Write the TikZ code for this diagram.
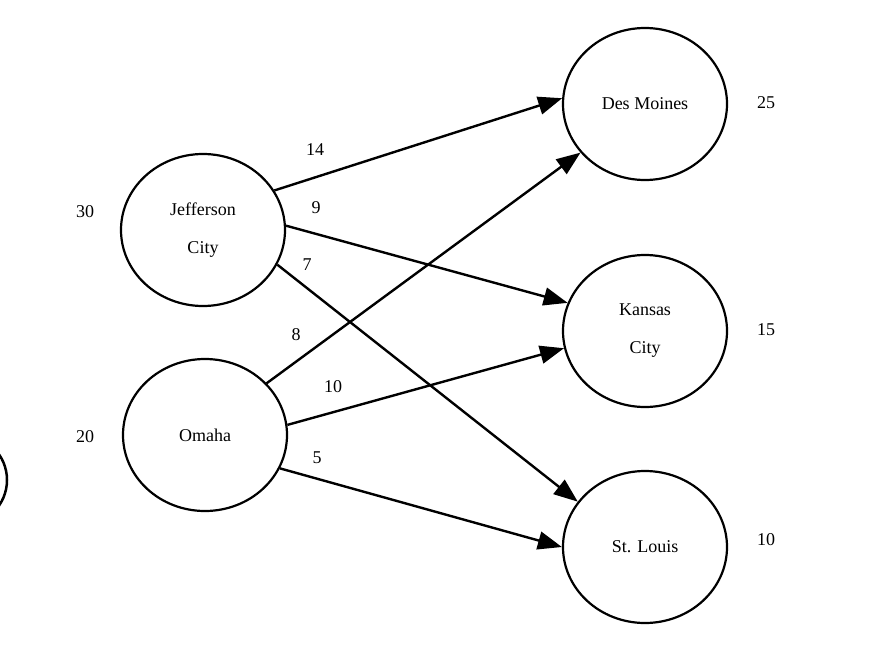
\documentclass[tikz,border=0pt]{standalone}
\usepackage{fontspec}
\setmainfont{Liberation Serif}
\usetikzlibrary{shapes.geometric,arrows.meta}
\begin{document}
\begin{tikzpicture}[x=1pt,y=-1pt,
  city/.style={ellipse,draw,line width=2.2pt,minimum width=164pt,minimum height=152pt,align=center,font=\fontsize{18}{38}\selectfont},
  lab/.style={font=\fontsize{18}{22}\selectfont},
  arr/.style={line width=2.4pt,-{Triangle[length=24pt,width=18pt]}}]
\useasboundingbox (0,0) rectangle (878,664);
\clip (0,0) rectangle (878,664);
\fill[white] (0,0) rectangle (878,664);
\draw[line width=2.5pt] (-38,480) circle (45);
\node[city] (jc) at (203,230) {Jefferson\\City};
\node[city] (om) at (205,435) {Omaha};
\node[city] (dm) at (645,104) {Des Moines};
\node[city] (kc) at (645,331) {Kansas\\City};
\node[city] (sl) at (645,547) {St. Louis};
\node[lab] (s1) at (85,212) {30};
\node[lab] (s2) at (85,437) {20};
\node[lab] (d1) at (766,103) {25};
\node[lab] (d2) at (766,330) {15};
\node[lab] (d3) at (766,540) {10};
\draw[arr] (jc.29) -- (dm.176);
\draw[arr] (jc.3) -- (kc.160);
\draw[arr] (jc.-25) -- (sl.146);
\draw[arr] (om.40) -- (dm.217);
\draw[arr] (om.7) -- (kc.192);
\draw[arr] (om.-24) -- (sl.180);
\node[lab] (l1) at (315,150) {14};
\node[lab] (l2) at (316,208) {9};
\node[lab] (l3) at (307,265) {7};
\node[lab] (l4) at (296,335) {8};
\node[lab] (l5) at (333,387) {10};
\node[lab] (l6) at (317,458) {5};
\end{tikzpicture}
\end{document}
